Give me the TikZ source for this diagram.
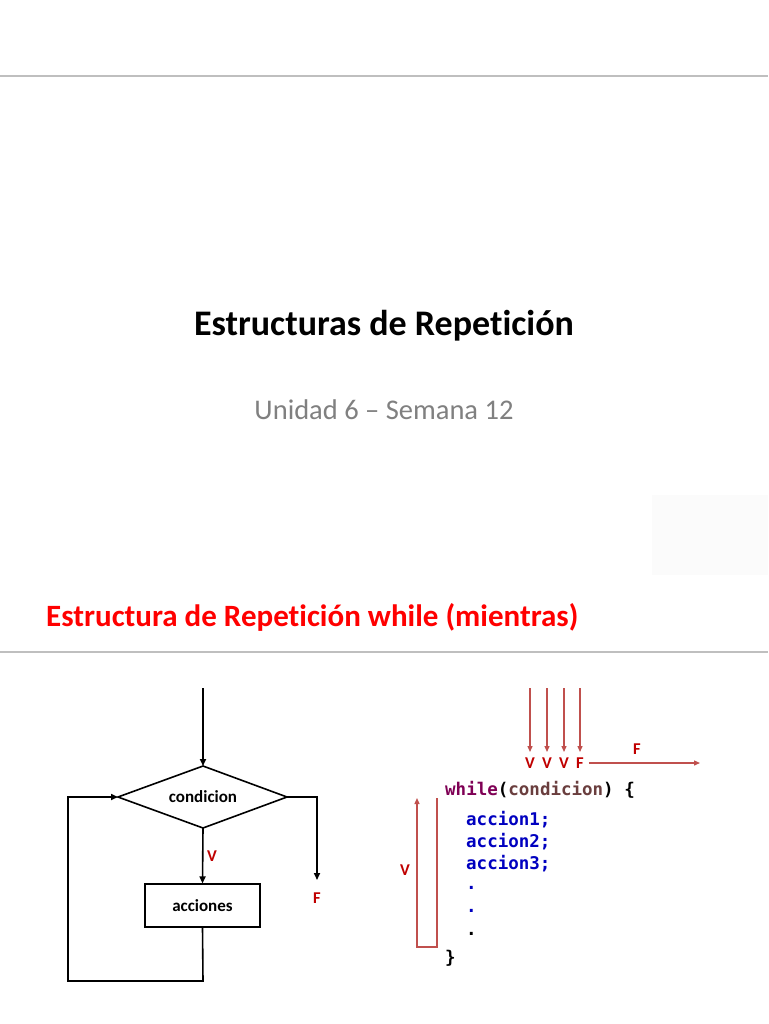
\documentclass[tikz,border=0pt]{standalone}
\usepackage{fontspec}
\setmainfont[RawFeature={-liga}]{Carlito}
\newfontfamily\codefont{DejaVu Sans Mono}
\usetikzlibrary{arrows.meta}
\definecolor{redarr}{HTML}{C0504D}
\definecolor{kw}{HTML}{7F0055}
\definecolor{varc}{HTML}{6A3E3E}
\definecolor{act}{HTML}{0000C0}
\definecolor{hred}{HTML}{FF0000}
\definecolor{lbl}{HTML}{C00000}
\begin{document}
\begin{tikzpicture}[x=1pt,y=-1pt,
  flow/.style={line width=1.6pt,-{Triangle[length=7pt,width=6pt]}},
  rarr/.style={redarr,line width=1.3pt,-{Triangle[length=6pt,width=5pt]}},
  code/.style={anchor=west,inner sep=0pt,font=\codefont\bfseries\fontsize{17.5}{17.5}\selectfont},
  lab/.style={text=lbl,font=\bfseries\fontsize{16.5}{16.5}\selectfont,inner sep=0pt}]
\useasboundingbox (0,0) rectangle (768,1024);
\fill[white] (0,0) rectangle (768,1024);
\draw[gray!50,line width=1.5pt] (0,76) -- (768,76);
\draw[gray!50,line width=1.5pt] (0,652) -- (768,652);
\fill[black!1.5] (652,495) rectangle (768,575);
\node (title) at (384,326) {\bfseries\fontsize{36}{36}\selectfont Estructuras de Repetición};
\node[text=gray] (sub) at (384,410) {\fontsize{28.5}{28.5}\selectfont Unidad 6 – Semana 12};
\node[anchor=west,text=hred,inner sep=0pt] (head) at (46,617) {\bfseries\fontsize{31}{31}\selectfont Estructura de Repetición while (mientras)};
% flowchart
\coordinate (start) at (203,688);
\coordinate (dt) at (203,766);
\coordinate (dl) at (118,797);
\coordinate (dr) at (287,797);
\coordinate (db) at (203,828);
\draw[line width=1.6pt] (dt) -- (dr) -- (db) -- (dl) -- cycle;
\node (cond) at (203,797) {\bfseries\fontsize{17}{17}\selectfont condicion};
\node[draw,line width=1.1pt,minimum width=115pt,minimum height=43pt] (acc) at (202.5,905.5) {\bfseries\fontsize{17}{17}\selectfont acciones};
\draw[flow] (start) -- (dt);
\draw[flow] (db) -- (acc.north);
\node[lab] (vf) at (212,856) {V};
\coordinate (fend) at (317,880);
\draw[flow] (dr) -| (fend);
\node[lab] (ff) at (317,898) {F};
\coordinate (l1) at (203,981);
\coordinate (l2) at (68,981);
\coordinate (l3) at (68,797);
\draw[flow] (acc.south) -- (l1) -- (l2) -- (l3) -- (dl);
% code
\foreach \x/\t in {530/V,547/V,564/V,580/F}{
  \coordinate (a\x) at (\x,688);
  \node[lab] (t\x) at (\x,763) {\t};
  \draw[rarr] (a\x) -- (\x,752);
}
\coordinate (fe) at (700,763);
\draw[rarr] (t580.east) ++(5,0) coordinate (fs) -- (fe);
\node[lab] (fl) at (637,749) {F};
\node[code] (w) at (445,790) {\textcolor{kw}{while}(\textcolor{varc}{condicion}) \{};
\node[code,text=act] (c1) at (466,820) {accion1;};
\node[code,text=act] (c2) at (466,842) {accion2;};
\node[code,text=act] (c3) at (466,864) {accion3;};
\node[code,text=act] (d1) at (466,888) {.};
\node[code,text=act] (d2) at (466,911) {.};
\node[code] (d3) at (466,934) {.};
\node[code] (cb) at (445,958) {\}};
\coordinate (r1) at (437,798);
\coordinate (r2) at (437,947);
\coordinate (r3) at (417,947);
\coordinate (r4) at (417,798);
\draw[rarr] (r1) -- (r2) -- (r3) -- (r4);
\node[lab] (vl) at (405,870) {V};
\end{tikzpicture}
\end{document}
